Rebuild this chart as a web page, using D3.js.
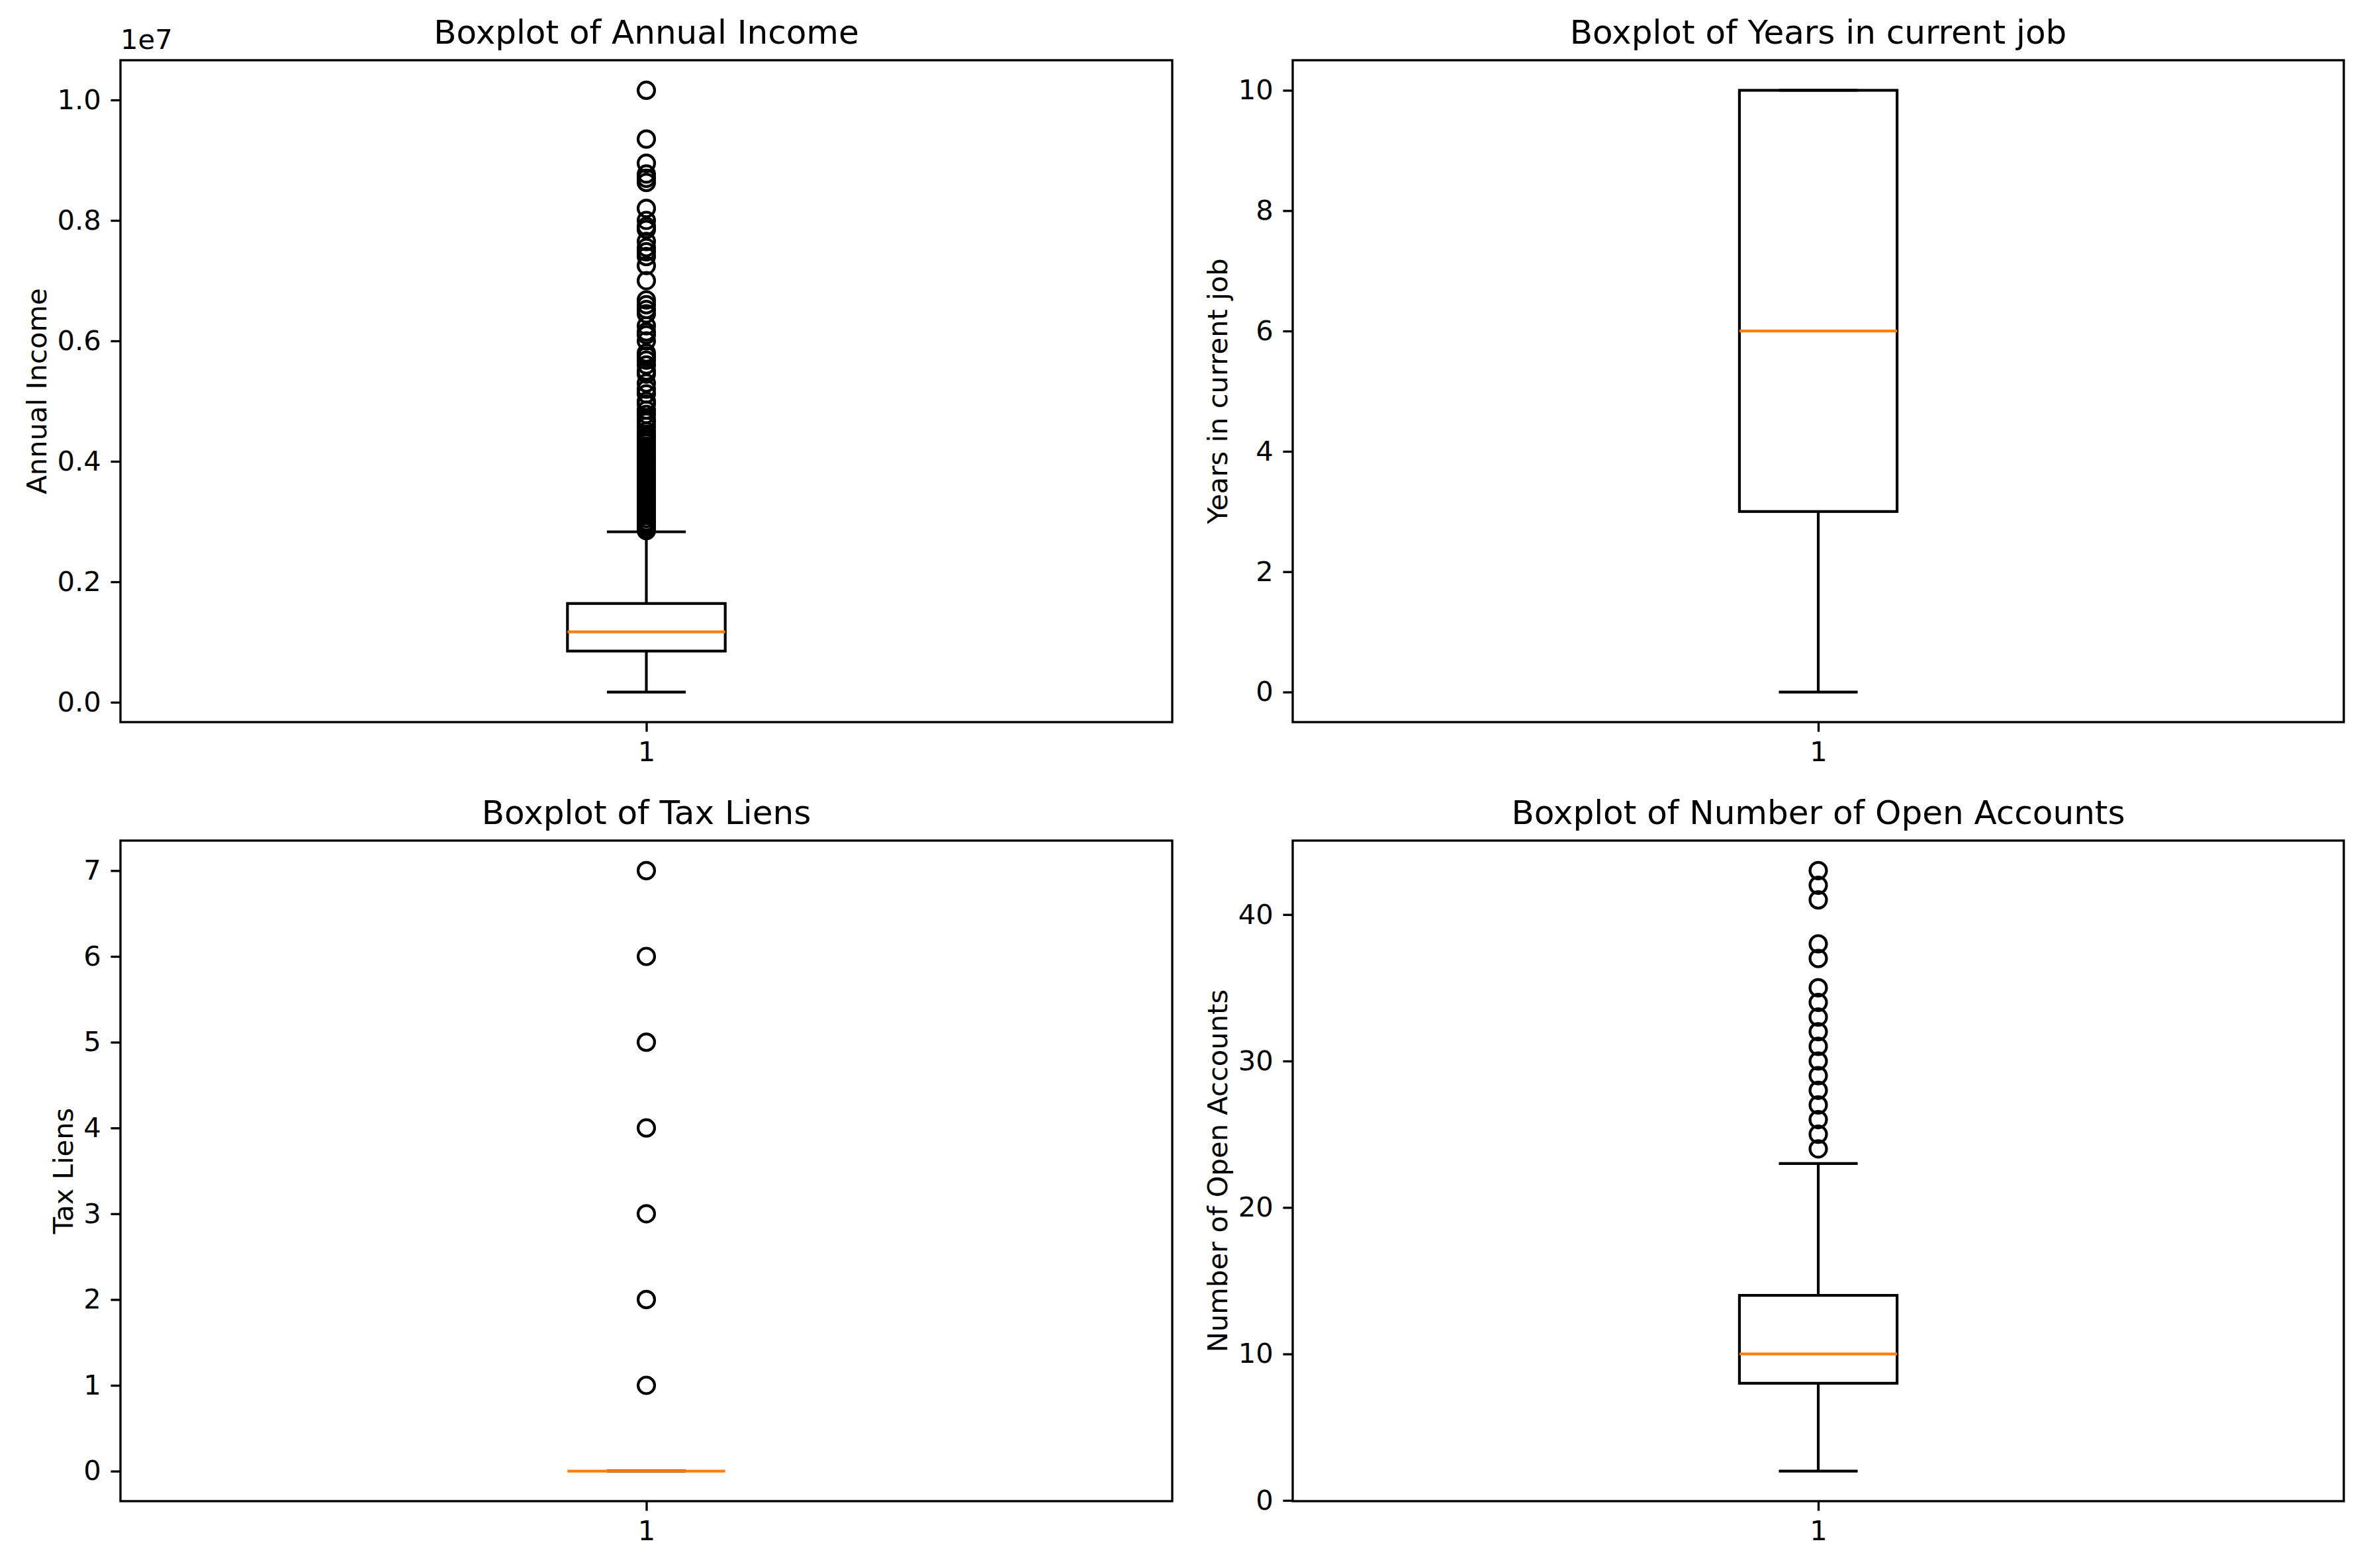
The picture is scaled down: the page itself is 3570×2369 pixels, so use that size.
<!DOCTYPE html>
<html><head><meta charset="utf-8">
<script src="https://cdn.jsdelivr.net/npm/d3@7"></script>
<style>body{margin:0;background:#fff}text{font-family:"DejaVu Sans",sans-serif;fill:#000}</style>
</head><body><svg id="fig"></svg>
<script>
var W = 3570, H = 2369;
var pt = 300 / 72;

// Annual Income (units of 1e7)
var incomeStats = { lo: 0.017, q1: 0.085, med: 0.117, q3: 0.164, hi: 0.283 };
var incomeOutliers = [1.016, 0.935, 0.895, 0.877, 0.87, 0.863, 0.82, 0.80, 0.79, 0.785, 0.765, 0.755,
  0.748, 0.74, 0.725, 0.70, 0.668, 0.66, 0.652, 0.645, 0.625, 0.615, 0.61, 0.6, 0.58, 0.575, 0.568,
  0.56, 0.55, 0.545, 0.53, 0.52, 0.512, 0.50, 0.495, 0.485, 0.478, 0.47, 0.465, 0.458, 0.45, 0.445,
  0.44, 0.435, 0.43, 0.425, 0.42, 0.415, 0.41, 0.405, 0.40, 0.395, 0.39, 0.385, 0.38, 0.375, 0.37,
  0.365, 0.36, 0.355, 0.35, 0.345, 0.34, 0.335, 0.33, 0.325, 0.32, 0.315, 0.31, 0.305, 0.30, 0.297,
  0.293, 0.29, 0.287, 0.285];
var incomeTicks = [0, 0.2, 0.4, 0.6, 0.8, 1.0];

var jobStats = { lo: 0, q1: 3, med: 6, q3: 10, hi: 10 };
var jobOutliers = [];
var jobTicks = [0, 2, 4, 6, 8, 10];

var liensStats = { lo: 0, q1: 0, med: 0, q3: 0, hi: 0 };
var liensOutliers = [1, 2, 3, 4, 5, 6, 7];
var liensTicks = [0, 1, 2, 3, 4, 5, 6, 7];

var accStats = { lo: 2, q1: 8, med: 10, q3: 14, hi: 23 };
var accOutliers = [24, 25, 26, 27, 28, 29, 30, 31, 32, 33, 34, 35, 37, 38, 41, 42, 43];
var accTicks = [0, 10, 20, 30, 40];

var panels = [
  { title: "Boxplot of Annual Income", ylabel: "Annual Income", stats: incomeStats, out: incomeOutliers, ticks: incomeTicks, fmt: d3.format(".1f"), offset: "1e7", x0: 182, x1: 1771, y0: 91, y1: 1091 },
  { title: "Boxplot of Years in current job", ylabel: "Years in current job", stats: jobStats, out: jobOutliers, ticks: jobTicks, fmt: d3.format("d"), x0: 1953, x1: 3541, y0: 91, y1: 1091 },
  { title: "Boxplot of Tax Liens", ylabel: "Tax Liens", stats: liensStats, out: liensOutliers, ticks: liensTicks, fmt: d3.format("d"), x0: 182, x1: 1771, y0: 1270, y1: 2268 },
  { title: "Boxplot of Number of Open Accounts", ylabel: "Number of Open Accounts", stats: accStats, out: accOutliers, ticks: accTicks, fmt: d3.format("d"), x0: 1953, x1: 3541, y0: 1270, y1: 2268 }
];

var svg = d3.select("#fig").attr("width", W).attr("height", H);

panels.forEach(function (p) {
  var s = p.stats;
  var vals = [s.lo, s.hi].concat(p.out);
  var mn = d3.min(vals), mx = d3.max(vals), pad = (mx - mn) * 0.05;
  var y = d3.scaleLinear().domain([mn - pad, mx + pad]).range([p.y1, p.y0]);
  var x = d3.scaleLinear().domain([0.5, 1.5]).range([p.x0, p.x1]);
  var g = svg.append("g");
  var lw = 1 * pt;

  // y axis
  var ya = g.append("g").attr("transform", "translate(" + p.x0 + ",0)")
    .call(d3.axisLeft(y).tickValues(p.ticks).tickFormat(p.fmt).tickSize(3.5 * pt).tickPadding(3.5 * pt));
  ya.select(".domain").remove();
  ya.selectAll("line").attr("stroke-width", 0.8 * pt);
  ya.selectAll("text").attr("font-size", 10 * pt);

  var xa = g.append("g").attr("transform", "translate(0," + p.y1 + ")")
    .call(d3.axisBottom(x).tickValues([1]).tickFormat(d3.format("d")).tickSize(3.5 * pt).tickPadding(3.5 * pt));
  xa.select(".domain").remove();
  xa.selectAll("line").attr("stroke-width", 0.8 * pt);
  xa.selectAll("text").attr("font-size", 10 * pt);

  // box
  var bw = 0.5 * 0.15 * 2 / 2; // half-width in data units
  g.append("line").attr("x1", x(1)).attr("x2", x(1)).attr("y1", y(s.q1)).attr("y2", y(s.lo)).attr("stroke", "#000").attr("stroke-width", lw);
  g.append("line").attr("x1", x(1)).attr("x2", x(1)).attr("y1", y(s.q3)).attr("y2", y(s.hi)).attr("stroke", "#000").attr("stroke-width", lw);
  [s.lo, s.hi].forEach(function (v) {
    g.append("line").attr("x1", x(1 - bw / 2)).attr("x2", x(1 + bw / 2)).attr("y1", y(v)).attr("y2", y(v)).attr("stroke", "#000").attr("stroke-width", lw);
  });
  g.append("rect").attr("x", x(1 - bw)).attr("width", x(1 + bw) - x(1 - bw))
    .attr("y", y(s.q3)).attr("height", y(s.q1) - y(s.q3))
    .attr("fill", "none").attr("stroke", "#000").attr("stroke-width", lw);
  g.append("line").attr("x1", x(1 - bw)).attr("x2", x(1 + bw)).attr("y1", y(s.med)).attr("y2", y(s.med)).attr("stroke", "#ff7f0e").attr("stroke-width", lw);

  g.selectAll("circle.fl").data(p.out).enter().append("circle")
    .attr("cx", x(1)).attr("cy", function (d) { return y(d); }).attr("r", 3 * pt)
    .attr("fill", "none").attr("stroke", "#000").attr("stroke-width", lw);

  // frame
  g.append("rect").attr("x", p.x0).attr("y", p.y0).attr("width", p.x1 - p.x0).attr("height", p.y1 - p.y0)
    .attr("fill", "none").attr("stroke", "#000").attr("stroke-width", 0.8 * pt);

  g.append("text").attr("x", (p.x0 + p.x1) / 2).attr("y", p.y0 - 6 * pt).attr("text-anchor", "middle")
    .attr("font-size", 12 * pt).text(p.title);

  var tw = d3.max(ya.selectAll("text").nodes(), function (n) { return n.getBBox().width; });
  var lx = p.x0 - 7 * pt - tw - 4 * pt;
  g.append("text").attr("transform", "translate(" + lx + "," + (p.y0 + p.y1) / 2 + ") rotate(-90)")
    .attr("text-anchor", "middle").attr("font-size", 10 * pt).text(p.ylabel);

  if (p.offset) {
    g.append("text").attr("x", p.x0).attr("y", p.y0 - 4 * pt).attr("font-size", 10 * pt).text(p.offset);
  }
});
</script></body></html>
